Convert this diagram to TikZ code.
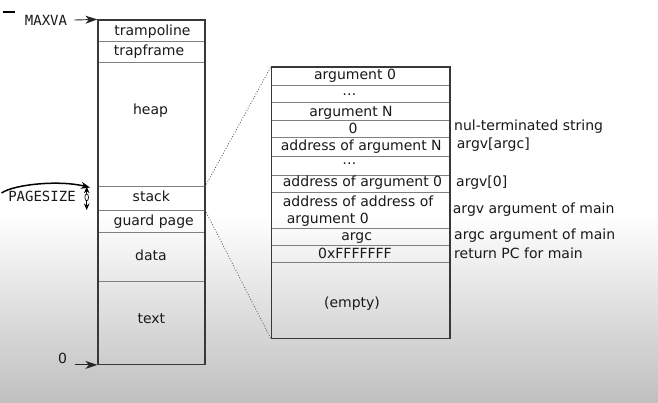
\documentclass[tikz,border=0pt]{standalone}
\usepackage{fontspec}
\setmainfont{DejaVu Sans}
\setmonofont{DejaVu Sans Mono}
\usetikzlibrary{arrows.meta,fit,calc}
\begin{document}
\begin{tikzpicture}[x=1pt,y=-1pt,
  lbl/.style={inner sep=0pt, font=\fontsize{14}{17.5}\selectfont, text=black!90},
  mono/.style={inner sep=0pt, font=\fontsize{14}{17.5}\selectfont\ttfamily, text=black!90},
  cellL/.style={draw=black!50, line width=0.8pt, inner sep=0pt, outer sep=0pt, minimum width=107pt},
  cellR/.style={draw=black!50, line width=0.8pt, inner sep=0pt, outer sep=0pt, minimum width=178.3pt},
  frameline/.style={draw=black!78, line width=1.2pt, inner sep=0pt},
  arr/.style={draw=black!85, line width=0.9pt, -{Stealth[length=12pt,width=8pt,inset=3.5pt]}},
  dotline/.style={draw=black!65, line width=0.8pt, dash pattern=on 0.9pt off 1.8pt}
]
\useasboundingbox (0,0) rectangle (658,402);
\fill[white] (0,0) rectangle (658,402);
\shade[top color=white, bottom color=black!25] (0,215) rectangle (658,402);

% top-left dash
\draw[line width=2pt, black] (3,11.7) -- (15,11.7);

% left memory column
\node[cellL, minimum height=21.7pt]  (tramp)   at (151.5,30.85) {};
\node[cellL, minimum height=20.3pt]  (trapf)   at (151.5,51.85) {};
\node[cellL, minimum height=124.7pt] (heap)    at (151.5,124.35) {};
\node[cellL, minimum height=23.3pt]  (stack)   at (151.5,198.35) {};
\node[cellL, minimum height=22.7pt]  (guard)   at (151.5,221.35) {};
\node[cellL, minimum height=49pt]    (data)    at (151.5,257.2) {};
\node[cellL, minimum height=82.6pt]  (textseg) at (151.5,323.0) {};
\node[frameline, fit=(tramp)(textseg)] (mem) {};

\node[lbl] (ltramp) at (152.5,32)   {trampoline};
\node[lbl] (ltrapf) at (149,51.7)   {trapframe};
\node[lbl] (lheap)  at (150.5,110.3) {heap};
\node[lbl] (lstack) at (151.3,196)  {stack};
\node[lbl] (lguard) at (153.7,221.7) {guard page};
\node[lbl] (ldata)  at (151,255)    {data};
\node[lbl] (ltext)  at (151.4,318.5) {text};

% right stack detail
\node[cellR, minimum height=18pt]   (r1)  at (360.85,76) {};
\node[cellR, minimum height=17.5pt] (r2)  at (360.85,93.75) {};
\node[cellR, minimum height=18pt]   (r3)  at (360.85,111.5) {};
\node[cellR, minimum height=17pt]   (r4)  at (360.85,129) {};
\node[cellR, minimum height=19pt]   (r5)  at (360.85,147) {};
\node[cellR, minimum height=18.5pt] (r6)  at (360.85,165.75) {};
\node[cellR, minimum height=17.5pt] (r7)  at (360.85,183.75) {};
\node[cellR, minimum height=35.5pt] (r8)  at (360.85,210.25) {};
\node[cellR, minimum height=17pt]   (r9)  at (360.85,236.5) {};
\node[cellR, minimum height=17.5pt] (r10) at (360.85,253.75) {};
\node[cellR, minimum height=76pt]   (r11) at (360.85,300.5) {};
\node[frameline, fit=(r1)(r11)] (stk) {};

\node[lbl] (t1)  at (355,75.7)   {argument 0};
\node[lbl, anchor=base] (t2) at (349.3,95.3) {…};
\node[lbl] (t3)  at (351,112.5)  {argument N};
\node[lbl] (t4)  at (353,128.3)  {0};
\node[lbl] (t5)  at (361.3,146.3) {address of argument N};
\node[lbl, anchor=base] (t6) at (349.3,164.3) {…};
\node[lbl] (t7)  at (362.5,183)  {address of argument 0};
\node[lbl, align=left, anchor=west] (t8) at (282.7,211) {address of address of\\\hspace*{4pt}argument 0};
\node[lbl] (t9)  at (356.7,237.7) {argc};
\node[lbl] (t10) at (355,253.8)  {0xFFFFFFF};
\node[lbl] (t11) at (352,304)    {(empty)};

% annotations
\node[lbl, anchor=west] (a4)  at (454,126.7)   {nul-terminated string};
\node[lbl, anchor=west] (a5)  at (456.7,145)   {argv[argc]};
\node[lbl, anchor=west] (a7)  at (456,182.7)   {argv[0]};
\node[lbl, anchor=west] (a8)  at (452.7,209.3) {argv argument of main};
\node[lbl, anchor=west] (a9)  at (454,236)     {argc argument of main};
\node[lbl, anchor=west] (a10) at (454,253.7)   {return PC for main};

% zoom lines
\draw[dotline] (stack.north east) -- (stk.north west);
\draw[dotline] (guard.north east) -- (stk.south west);

% MAXVA and 0
\node[mono, inner xsep=7pt] (maxva) at (46,20) {MAXVA};
\draw[arr] (maxva.east) -- (mem.north west);
\node[lbl, inner xsep=8pt] (zero) at (62.5,358) {0};
\draw[arr] (zero.east |- mem.south west) -- (mem.south west);

% PAGESIZE
\node[mono] (pgsz) at (42,196.7) {PAGESIZE};
\draw[black, line width=1.5pt, -{Stealth[length=9pt,width=7pt]}] (1.5,193) .. controls (15,184) and (60,180) .. (90,187.5);
\draw[black, line width=1pt, {Stealth[length=6.5pt,width=5.5pt]}-{Stealth[length=6.5pt,width=5.5pt]}]
  ([xshift=-11.3pt]stack.north west) -- ([xshift=-11.3pt]stack.south west);
\draw[black, line width=0.7pt, fill=white] ($(stack.west)+(-11.3,-1)$) ellipse (1.8pt and 3.5pt);
\end{tikzpicture}
\end{document}
